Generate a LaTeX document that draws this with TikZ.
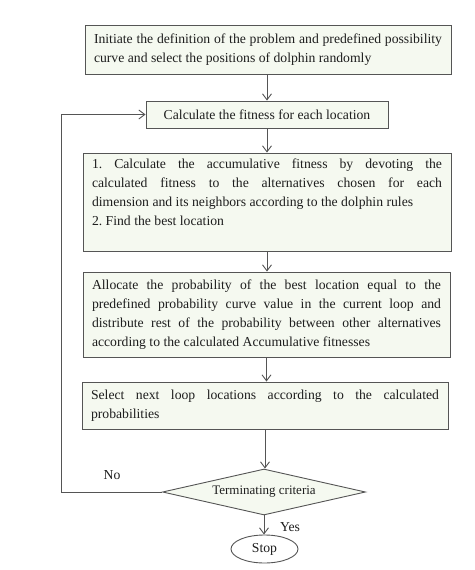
\documentclass[tikz,border=0pt]{standalone}
\usepackage{fontspec}
\setmainfont{Liberation Serif}
\usetikzlibrary{arrows.meta,shapes.geometric}
\definecolor{boxfill}{RGB}{245,249,240}
\definecolor{linegray}{RGB}{85,85,85}
\definecolor{txt}{RGB}{30,30,30}
\frenchspacing
\tikzset{
  stepbox/.style={draw=linegray, line width=0.9pt, fill=boxfill, rectangle,
    inner xsep=9pt, inner ysep=0pt, align=justify, text=txt,
    font=\fontsize{13.7}{19}\selectfont},
  arr/.style={draw=linegray, line width=0.9pt, -{Straight Barb[length=6pt,width=9pt,line width=0.9pt]}},
  lbl/.style={font=\fontsize{13.7}{19}\selectfont, text=txt, inner sep=0pt},
}
\begin{document}
\begin{tikzpicture}[x=1pt,y=-1pt]
\useasboundingbox (0,0) rectangle (474,570);
\fill[white] (0,0) rectangle (474,570);

\node[stepbox, minimum width=366, minimum height=49, text width=348] (b1) at (268,49.5)
  {Initiate the definition of the problem and predefined possibility\linebreak curve and select the positions of dolphin randomly};

\node[stepbox, minimum width=242, minimum height=27, align=center] (b2) at (267,114.5)
  {Calculate the fitness for each location};

\node[stepbox, minimum width=368, minimum height=98, text width=350] (b3) at (267,202)
  {1. Calculate the accumulative fitness by devoting the\linebreak calculated fitness to the alternatives chosen for each\linebreak dimension and its neighbors according to the dolphin rules\\ 2. Find the best location\\ \rule{0pt}{0pt}};

\node[stepbox, minimum width=367, minimum height=85, text width=349] (b4) at (266.5,314.5)
  {Allocate the probability of the best location equal to the\linebreak predefined probability curve value in the current loop and\linebreak distribute rest of the probability between other alternatives\linebreak according to the calculated Accumulative fitnesses};

\node[stepbox, minimum width=366, minimum height=47, text width=348] (b5) at (265,405.5)
  {Select next loop locations according to the calculated\linebreak probabilities};

\node[diamond, draw=linegray, line width=0.9pt, fill=boxfill, aspect=4.4,
  minimum width=203, minimum height=46, inner sep=0pt, text=txt,
  font=\fontsize{13}{16}\selectfont] (dia) at (264,492) {Terminating criteria};

\node[ellipse, draw=linegray, line width=0.9pt, fill=white,
  minimum width=67, minimum height=28, inner sep=0pt, text=txt,
  font=\fontsize{13.7}{16}\selectfont] (stop) at (264.5,549) {\raisebox{3pt}{Stop}};

\node[lbl] (no) at (112,475) {No};
\node[lbl] (yes) at (290,527) {Yes};

\coordinate (loopx) at (61,0);

\draw[arr] (b2.north |- b1.south) -- (b2.north);
\draw[arr] (b2.south) -- (b2.south |- b3.north);
\draw[arr] (b3.south) -- (b3.south |- b4.north);
\draw[arr] (b4.south) -- (b4.south |- b5.north);
\draw[arr] (b5.south) -- (b5.south |- dia.north);
\draw[arr] (dia.south) -- (dia.south |- stop.north);
\draw[arr] (dia.west) -- (dia.west -| loopx) |- (b2.west);
\end{tikzpicture}
\end{document}
